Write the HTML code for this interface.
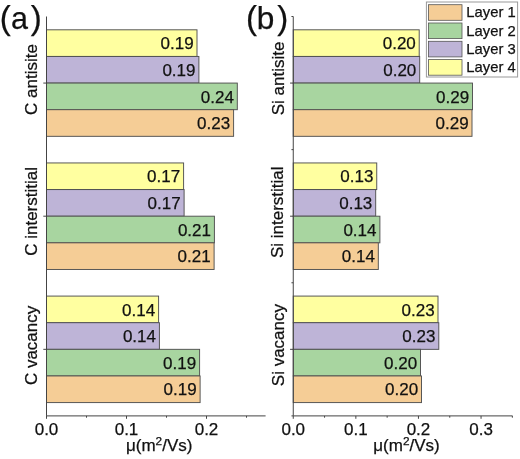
<!DOCTYPE html>
<html><head><meta charset="utf-8"><title>chart</title>
<style>
html,body{margin:0;padding:0;background:#fff;}
svg{display:block;}
text{font-family:"Liberation Sans",Arial,sans-serif;fill:#111;stroke:#111;stroke-width:0.25px;}
.v{font-size:17px;}
.t{font-size:17px;}
.c{font-size:17px;}
.l{font-size:14.8px;}
.p{font-size:33px;}
.x{font-size:17px;}
</style></head><body>
<svg width="520" height="459" viewBox="0 0 520 459">
<rect width="520" height="459" fill="#fff"/>
<rect x="46.50" y="29.81" width="150.50" height="26.63" fill="#FFFFA0" stroke="#505050" stroke-width="0.95"/>
<text x="193.60" y="49.33" text-anchor="end" class="v">0.19</text>
<rect x="46.50" y="56.44" width="152.40" height="26.63" fill="#BEB4D7" stroke="#505050" stroke-width="0.95"/>
<text x="195.50" y="75.95" text-anchor="end" class="v">0.19</text>
<rect x="46.50" y="83.07" width="190.80" height="26.63" fill="#A8D5A0" stroke="#505050" stroke-width="0.95"/>
<text x="233.90" y="102.58" text-anchor="end" class="v">0.24</text>
<rect x="46.50" y="109.69" width="187.10" height="26.63" fill="#F5CD96" stroke="#505050" stroke-width="0.95"/>
<text x="230.20" y="129.21" text-anchor="end" class="v">0.23</text>
<rect x="46.50" y="162.95" width="137.10" height="26.63" fill="#FFFFA0" stroke="#505050" stroke-width="0.95"/>
<text x="180.20" y="182.46" text-anchor="end" class="v">0.17</text>
<rect x="46.50" y="189.57" width="137.60" height="26.63" fill="#BEB4D7" stroke="#505050" stroke-width="0.95"/>
<text x="180.70" y="209.09" text-anchor="end" class="v">0.17</text>
<rect x="46.50" y="216.20" width="167.90" height="26.63" fill="#A8D5A0" stroke="#505050" stroke-width="0.95"/>
<text x="211.00" y="235.71" text-anchor="end" class="v">0.21</text>
<rect x="46.50" y="242.83" width="167.60" height="26.63" fill="#F5CD96" stroke="#505050" stroke-width="0.95"/>
<text x="210.70" y="262.34" text-anchor="end" class="v">0.21</text>
<rect x="46.50" y="296.08" width="112.10" height="26.63" fill="#FFFFA0" stroke="#505050" stroke-width="0.95"/>
<text x="155.20" y="315.59" text-anchor="end" class="v">0.14</text>
<rect x="46.50" y="322.71" width="112.90" height="26.63" fill="#BEB4D7" stroke="#505050" stroke-width="0.95"/>
<text x="156.00" y="342.22" text-anchor="end" class="v">0.14</text>
<rect x="46.50" y="349.33" width="153.10" height="26.63" fill="#A8D5A0" stroke="#505050" stroke-width="0.95"/>
<text x="196.20" y="368.85" text-anchor="end" class="v">0.19</text>
<rect x="46.50" y="375.96" width="153.60" height="26.63" fill="#F5CD96" stroke="#505050" stroke-width="0.95"/>
<text x="196.70" y="395.47" text-anchor="end" class="v">0.19</text>
<path d="M46.50 16.50V415.90H265.60" fill="none" stroke="#444" stroke-width="1"/>
<path d="M43.30 83.07H46.50" stroke="#444" stroke-width="1"/>
<path d="M43.30 216.20H46.50" stroke="#444" stroke-width="1"/>
<path d="M43.30 349.33H46.50" stroke="#444" stroke-width="1"/>
<path d="M46.50 415.90v2.9" stroke="#444" stroke-width="1"/>
<text x="46.50" y="434.6" text-anchor="middle" class="t">0.0</text>
<path d="M126.50 415.90v2.9" stroke="#444" stroke-width="1"/>
<text x="126.50" y="434.6" text-anchor="middle" class="t">0.1</text>
<path d="M206.50 415.90v2.9" stroke="#444" stroke-width="1"/>
<text x="206.50" y="434.6" text-anchor="middle" class="t">0.2</text>
<path d="M86.50 415.90v1.8" stroke="#444" stroke-width="1"/>
<path d="M166.50 415.90v1.8" stroke="#444" stroke-width="1"/>
<path d="M246.50 415.90v1.8" stroke="#444" stroke-width="1"/>
<text transform="translate(37.10 79.50) rotate(-90)" text-anchor="middle" class="c">C antisite</text>
<text transform="translate(36.60 211.40) rotate(-90)" text-anchor="middle" class="c">C interstitial</text>
<text transform="translate(36.90 345.40) rotate(-90)" text-anchor="middle" class="c">C vacancy</text>
<rect x="293.25" y="29.81" width="125.95" height="26.63" fill="#FFFFA0" stroke="#505050" stroke-width="0.95"/>
<text x="415.80" y="49.33" text-anchor="end" class="v">0.20</text>
<rect x="293.25" y="56.44" width="126.45" height="26.63" fill="#BEB4D7" stroke="#505050" stroke-width="0.95"/>
<text x="416.30" y="75.95" text-anchor="end" class="v">0.20</text>
<rect x="293.25" y="83.07" width="179.25" height="26.63" fill="#A8D5A0" stroke="#505050" stroke-width="0.95"/>
<text x="469.10" y="102.58" text-anchor="end" class="v">0.29</text>
<rect x="293.25" y="109.69" width="178.75" height="26.63" fill="#F5CD96" stroke="#505050" stroke-width="0.95"/>
<text x="468.60" y="129.21" text-anchor="end" class="v">0.29</text>
<rect x="293.25" y="162.95" width="83.50" height="26.63" fill="#FFFFA0" stroke="#505050" stroke-width="0.95"/>
<text x="373.35" y="182.46" text-anchor="end" class="v">0.13</text>
<rect x="293.25" y="189.57" width="82.45" height="26.63" fill="#BEB4D7" stroke="#505050" stroke-width="0.95"/>
<text x="372.30" y="209.09" text-anchor="end" class="v">0.13</text>
<rect x="293.25" y="216.20" width="86.65" height="26.63" fill="#A8D5A0" stroke="#505050" stroke-width="0.95"/>
<text x="376.50" y="235.71" text-anchor="end" class="v">0.14</text>
<rect x="293.25" y="242.83" width="85.05" height="26.63" fill="#F5CD96" stroke="#505050" stroke-width="0.95"/>
<text x="374.90" y="262.34" text-anchor="end" class="v">0.14</text>
<rect x="293.25" y="296.08" width="144.75" height="26.63" fill="#FFFFA0" stroke="#505050" stroke-width="0.95"/>
<text x="434.60" y="315.59" text-anchor="end" class="v">0.23</text>
<rect x="293.25" y="322.71" width="145.55" height="26.63" fill="#BEB4D7" stroke="#505050" stroke-width="0.95"/>
<text x="435.40" y="342.22" text-anchor="end" class="v">0.23</text>
<rect x="293.25" y="349.33" width="127.25" height="26.63" fill="#A8D5A0" stroke="#505050" stroke-width="0.95"/>
<text x="417.10" y="368.85" text-anchor="end" class="v">0.20</text>
<rect x="293.25" y="375.96" width="128.25" height="26.63" fill="#F5CD96" stroke="#505050" stroke-width="0.95"/>
<text x="418.10" y="395.47" text-anchor="end" class="v">0.20</text>
<path d="M293.25 16.50V415.90H512.50" fill="none" stroke="#444" stroke-width="1"/>
<path d="M290.05 83.07H293.25" stroke="#444" stroke-width="1"/>
<path d="M290.05 216.20H293.25" stroke="#444" stroke-width="1"/>
<path d="M290.05 349.33H293.25" stroke="#444" stroke-width="1"/>
<path d="M291.45 16.50H293.25" stroke="#444" stroke-width="1"/>
<path d="M291.45 149.63H293.25" stroke="#444" stroke-width="1"/>
<path d="M291.45 282.77H293.25" stroke="#444" stroke-width="1"/>
<path d="M291.45 415.90H293.25" stroke="#444" stroke-width="1"/>
<path d="M293.25 415.90v2.9" stroke="#444" stroke-width="1"/>
<text x="293.25" y="434.6" text-anchor="middle" class="t">0.0</text>
<path d="M355.85 415.90v2.9" stroke="#444" stroke-width="1"/>
<text x="355.85" y="434.6" text-anchor="middle" class="t">0.1</text>
<path d="M418.45 415.90v2.9" stroke="#444" stroke-width="1"/>
<text x="418.45" y="434.6" text-anchor="middle" class="t">0.2</text>
<path d="M481.05 415.90v2.9" stroke="#444" stroke-width="1"/>
<text x="481.05" y="434.6" text-anchor="middle" class="t">0.3</text>
<path d="M324.55 415.90v1.8" stroke="#444" stroke-width="1"/>
<path d="M387.15 415.90v1.8" stroke="#444" stroke-width="1"/>
<path d="M449.75 415.90v1.8" stroke="#444" stroke-width="1"/>
<path d="M512.35 415.90v1.8" stroke="#444" stroke-width="1"/>
<text transform="translate(283.90 78.40) rotate(-90)" text-anchor="middle" class="c">Si antisite</text>
<text transform="translate(282.90 212.30) rotate(-90)" text-anchor="middle" class="c">Si interstitial</text>
<text transform="translate(283.60 345.10) rotate(-90)" text-anchor="middle" class="c">Si vacancy</text>
<text y="28.6" class="p"><tspan x="-0.2">(</tspan><tspan x="10.9" font-size="30.5">a</tspan><tspan x="30.8">)</tspan></text>
<text y="28.6" class="p"><tspan x="246.1">(</tspan><tspan x="256.7" font-size="31.6">b</tspan><tspan x="277.2">)</tspan></text>
<text x="159.2" y="450.5" text-anchor="middle" class="x">μ(m<tspan dy="-6" font-size="11.8">2</tspan><tspan dy="6">/Vs)</tspan></text>
<text x="406.5" y="450.5" text-anchor="middle" class="x">μ(m<tspan dy="-6" font-size="11.8">2</tspan><tspan dy="6">/Vs)</tspan></text>
<rect x="426.4" y="2" width="91.2" height="75" fill="#fff" stroke="#999" stroke-width="1"/>
<rect x="428.4" y="4.70" width="33.6" height="15.6" fill="#F5CD96" stroke="#555" stroke-width="0.8"/>
<text x="466.3" y="17.40" class="l">Layer 1</text>
<rect x="428.4" y="23.00" width="33.6" height="15.6" fill="#A8D5A0" stroke="#555" stroke-width="0.8"/>
<text x="466.3" y="35.50" class="l">Layer 2</text>
<rect x="428.4" y="41.30" width="33.6" height="15.6" fill="#BEB4D7" stroke="#555" stroke-width="0.8"/>
<text x="466.3" y="53.60" class="l">Layer 3</text>
<rect x="428.4" y="59.60" width="33.6" height="15.6" fill="#FFFFA0" stroke="#555" stroke-width="0.8"/>
<text x="466.3" y="71.70" class="l">Layer 4</text>
</svg>
</body></html>
